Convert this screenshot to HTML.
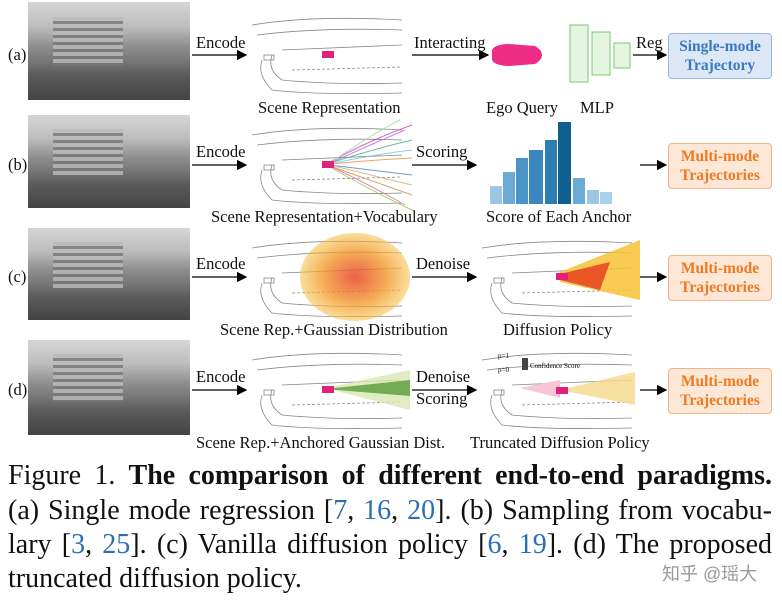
<!DOCTYPE html>
<html><head><meta charset="utf-8"><style>
body{margin:0;width:782px;height:602px;background:#fff;position:relative;overflow:hidden;font-family:"Liberation Serif",serif;}
.a{position:absolute;}
.t{position:absolute;font-size:16.5px;color:#111;white-space:nowrap;}
.cam{position:absolute;left:28px;width:162px;background:linear-gradient(180deg,#d6d6d6 0%,#bdbdbd 25%,#8f8f8f 45%,#777 60%,#5a5a5a 75%,#444 100%);}
.cam:before{content:"";position:absolute;left:25px;top:15%;width:70px;height:50%;background:repeating-linear-gradient(180deg,#bbb 0 4px,#777 4px 7px);opacity:.8}
.box{position:absolute;left:668px;width:102px;height:44px;border-radius:4px;font-weight:bold;font-size:15.5px;text-align:center;line-height:19px;display:flex;align-items:center;justify-content:center;}
.bl{background:#dce8f6;border:1px solid #9bb8dc;color:#3a78c6}
.or{background:#fde7d6;border:1px solid #f2b48a;color:#f07a22}
.cap{position:absolute;left:8px;width:764px;font-size:28px;line-height:34px;color:#111;text-align:justify;text-align-last:justify;white-space:nowrap}
.lk{color:#2a6fb5}
</style></head><body>
<svg class="a" style="left:0;top:0" width="782" height="460">
<defs><marker id="ar" markerWidth="8" markerHeight="8" refX="7" refY="4" orient="auto"><path d="M0,0 L8,4 L0,8 z" fill="#000"/></marker>
<g id="scene" fill="none" stroke="#888" stroke-width="0.8">
<path d="M0,10 Q60,0 150,5"/><path d="M5,20 Q70,12 150,15"/><path d="M10,45 Q5,60 20,75 Q60,80 150,78"/><path d="M20,40 Q15,55 30,65 Q80,70 150,68"/><path d="M30,35 L150,30"/><path d="M40,55 L150,52" stroke-dasharray="3,2"/><rect x="12" y="40" width="10" height="5"/>
</g>
<radialGradient id="og"><stop offset="0" stop-color="#e63a1c"/><stop offset=".6" stop-color="#f29a2e"/><stop offset="1" stop-color="#f6c24a" stop-opacity=".7"/></radialGradient></defs>
<g stroke="#000" stroke-width="1.3" marker-end="url(#ar)">
<line x1="192" y1="55" x2="246" y2="55"/><line x1="412" y1="55" x2="488" y2="55"/><line x1="633" y1="55" x2="666" y2="55"/>
<line x1="192" y1="165" x2="246" y2="165"/><line x1="412" y1="165" x2="476" y2="165"/><line x1="640" y1="165" x2="666" y2="165"/>
<line x1="192" y1="277" x2="246" y2="277"/><line x1="412" y1="277" x2="476" y2="277"/><line x1="640" y1="277" x2="666" y2="277"/>
<line x1="192" y1="390" x2="246" y2="390"/><line x1="412" y1="390" x2="476" y2="390"/><line x1="640" y1="390" x2="666" y2="390"/>
</g>
<use href="#scene" x="252" y="15"/><use href="#scene" x="252" y="125"/><use href="#scene" x="252" y="238"/><use href="#scene" x="252" y="350"/>
<use href="#scene" x="482" y="238"/><use href="#scene" x="482" y="350"/>
<rect x="322" y="51" width="12" height="7" fill="#e0207a"/>
<g stroke-width="1" fill="none" opacity=".8">
<path d="M330,162 Q370,140 412,125" stroke="#c4a"/><path d="M330,163 Q370,150 412,140" stroke="#4a8"/><path d="M330,164 Q370,160 412,158" stroke="#e84"/><path d="M330,165 Q370,170 412,175" stroke="#48c"/><path d="M330,166 Q370,180 412,195" stroke="#c84"/><path d="M330,167 Q370,190 412,210" stroke="#8c4"/><path d="M330,163 Q370,145 405,130" stroke="#a6e"/><path d="M330,166 Q370,185 405,205" stroke="#e6a"/>
<path d="M330,164 Q370,155 412,150" stroke="#6cd"/><path d="M330,165 Q370,175 412,185" stroke="#da6"/><path d="M330,163 Q370,135 400,120" stroke="#9d9"/>
</g>
<rect x="322" y="161" width="12" height="7" fill="#e0207a"/>
<ellipse cx="355" cy="277" rx="55" ry="44" fill="url(#og)" opacity=".8"/>
<path d="M560,272 L640,240 L640,300 L560,282 z" fill="#f7c234" opacity=".85"/><path d="M560,274 L610,262 L600,290 L560,280 z" fill="#e63a1c" opacity=".8"/>
<rect x="556" y="273" width="12" height="7" fill="#e0207a"/>
<path d="M325,388 L410,370 L410,410 z" fill="#d9e7b0" opacity=".8"/><path d="M325,389 L410,380 L410,396 z" fill="#5b9b3a" opacity=".8"/>
<rect x="322" y="386" width="12" height="7" fill="#e0207a"/>
<path d="M560,390 L635,372 L635,405 z" fill="#f6d88a" opacity=".8"/><path d="M520,388 L560,380 L560,398 z" fill="#f4c6d6"/>
<rect x="556" y="387" width="12" height="7" fill="#e0207a"/>
<rect x="522" y="358" width="6" height="12" fill="#444"/><text x="498" y="358" font-size="7">p=1</text><text x="498" y="372" font-size="7">p=0</text><text x="530" y="368" font-size="7">Confidence Score</text>
<path d="M492,50 Q495,44 510,44 L535,46 Q542,50 542,55 Q542,60 535,64 L510,66 Q495,66 492,60 z" fill="#ef2d86"/>
<rect x="570" y="25" width="18" height="57" fill="#e4f6e0" stroke="#7ec476"/><rect x="592" y="32" width="18" height="43" fill="#e4f6e0" stroke="#7ec476"/><rect x="614" y="43" width="16" height="25" fill="#e4f6e0" stroke="#7ec476"/>
<g fill="#2d7fb2"><rect x="490" y="186" width="12" height="18" fill="#9cc7e3"/><rect x="503" y="172" width="12" height="32" fill="#6aaad4"/><rect x="516" y="158" width="12" height="46" fill="#4b94c8"/><rect x="529" y="150" width="14" height="54" fill="#3a86be"/><rect x="545" y="140" width="12" height="64" fill="#2d7fb2"/><rect x="558" y="122" width="13" height="82" fill="#0f5f8f"/><rect x="573" y="178" width="12" height="26" fill="#6aaad4"/><rect x="587" y="190" width="12" height="14" fill="#9cc7e3"/><rect x="600" y="192" width="12" height="12" fill="#aad0ea"/></g>
</svg>
<div class="cam" style="top:2px;height:98px"></div>
<div class="cam" style="top:115px;height:93px"></div>
<div class="cam" style="top:228px;height:92px"></div>
<div class="cam" style="top:340px;height:95px"></div>
<div class="t" style="left:8px;top:45px">(a)</div><div class="t" style="left:8px;top:155px">(b)</div><div class="t" style="left:8px;top:267px">(c)</div><div class="t" style="left:8px;top:380px">(d)</div>
<div class="t" style="left:196px;top:33px">Encode</div><div class="t" style="left:196px;top:142px">Encode</div><div class="t" style="left:196px;top:254px">Encode</div><div class="t" style="left:196px;top:367px">Encode</div>
<div class="t" style="left:414px;top:33px">Interacting</div><div class="t" style="left:636px;top:33px">Reg</div>
<div class="t" style="left:416px;top:142px">Scoring</div><div class="t" style="left:416px;top:254px">Denoise</div>
<div class="t" style="left:416px;top:367px">Denoise</div><div class="t" style="left:416px;top:389px">Scoring</div>
<div class="t" style="left:258px;top:98px">Scene Representation</div>
<div class="t" style="left:486px;top:98px">Ego Query</div><div class="t" style="left:580px;top:98px">MLP</div>
<div class="t" style="left:211px;top:207px">Scene Representation+Vocabulary</div>
<div class="t" style="left:486px;top:207px">Score of Each Anchor</div>
<div class="t" style="left:220px;top:320px">Scene Rep.+Gaussian Distribution</div>
<div class="t" style="left:503px;top:320px">Diffusion Policy</div>
<div class="t" style="left:196px;top:433px">Scene Rep.+Anchored Gaussian Dist.</div>
<div class="t" style="left:470px;top:433px">Truncated Diffusion Policy</div>
<div class="box bl" style="top:33px">Single-mode<br>Trajectory</div>
<div class="box or" style="top:143px">Multi-mode<br>Trajectories</div>
<div class="box or" style="top:255px">Multi-mode<br>Trajectories</div>
<div class="box or" style="top:368px">Multi-mode<br>Trajectories</div>
<div class="cap" style="top:459px">Figure 1. <b>The comparison of different end-to-end paradigms.</b></div>
<div class="cap" style="top:494px">(a) Single mode regression [<span class="lk">7</span>, <span class="lk">16</span>, <span class="lk">20</span>]. (b) Sampling from vocabu-</div>
<div class="cap" style="top:528px">lary [<span class="lk">3</span>, <span class="lk">25</span>]. (c) Vanilla diffusion policy [<span class="lk">6</span>, <span class="lk">19</span>]. (d) The proposed</div>
<div class="cap" style="top:562px;text-align-last:left;width:auto">truncated diffusion policy.</div>
<div class="a" style="left:662px;top:560px;font-family:'Liberation Sans','Noto Sans CJK SC',sans-serif;font-size:18px;color:#999">知乎 @瑶大</div>
</body></html>
